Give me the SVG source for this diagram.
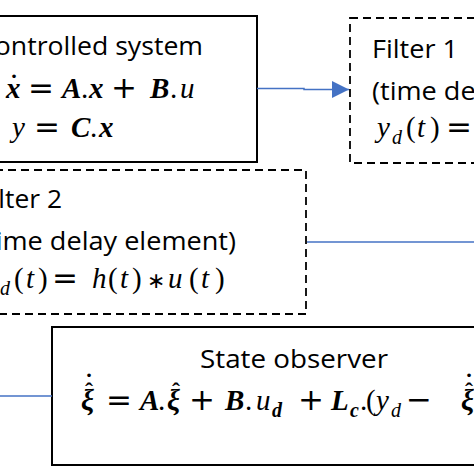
<svg xmlns="http://www.w3.org/2000/svg" width="474" height="474" viewBox="0 0 474 474">
<style>
.solid{fill:#fff;stroke:#000;stroke-width:2}
.dash{fill:#fff;stroke:#000;stroke-width:1.8;stroke-dasharray:8 5}
.t{font-family:"Open Sans","Liberation Sans",sans-serif;font-size:25px;fill:#000}
.m{font-family:"Liberation Serif","DejaVu Serif",serif;font-size:29px;font-style:italic;fill:#000}
.b{font-weight:bold}
.r{font-style:normal}
.op{font-family:"DejaVu Sans",sans-serif;font-style:normal;font-weight:normal;font-size:31px}
.ast{font-family:"DejaVu Sans",sans-serif;font-style:normal;font-weight:normal;font-size:22px}
.s{font-size:20px}
.acc{font-family:"Liberation Serif","DejaVu Serif",serif;font-size:24px;font-style:normal;font-weight:bold;fill:#000;text-anchor:middle}
.conn{fill:none;stroke:#4472C4;stroke-width:1.5}
</style>
<defs>
<marker id="arr" viewBox="0 0 10 10" refX="10" refY="5" markerWidth="17" markerHeight="17" markerUnits="userSpaceOnUse" orient="auto">
<path d="M0,0 L10,5 L0,10 z" fill="#4472C4"/>
</marker>
</defs>
<rect width="474" height="474" fill="#fff"/>

<g id="controlled-system">
<rect class="solid" x="-40" y="16" width="297" height="146"/>
<text class="t" x="-22" y="55" textLength="225" lengthAdjust="spacingAndGlyphs">Controlled system</text>
<text class="m" y="98"><tspan class="b" x="6">x</tspan><tspan class="op" x="28">=</tspan><tspan class="b" x="62">A</tspan><tspan class="r" x="81">.</tspan><tspan class="b" x="89">x</tspan><tspan class="op" x="111">+</tspan><tspan class="b" x="150">B</tspan><tspan class="r" x="170">.</tspan><tspan x="180">u</tspan></text>
<text class="acc" x="14" y="91">˙</text>
<text class="m" y="137"><tspan x="12">y</tspan><tspan class="op" x="34">=</tspan><tspan class="b" x="71">C</tspan><tspan class="r" x="90">.</tspan><tspan class="b" x="99">x</tspan></text>
</g>

<g id="filter-1">
<rect class="dash" x="350" y="18" width="200" height="145"/>
<text class="t" x="372" y="58" textLength="86" lengthAdjust="spacingAndGlyphs">Filter 1</text>
<text class="t" x="372" y="100" textLength="258" lengthAdjust="spacingAndGlyphs">(time delay element)</text>
<text class="m" y="137"><tspan x="377">y</tspan><tspan class="s" x="392" y="144">d</tspan><tspan class="r" x="406" y="137">(</tspan><tspan x="417">t</tspan><tspan class="r" x="430">)</tspan><tspan class="op" x="446">=</tspan></text>
</g>

<g id="filter-2">
<rect class="dash" x="-44" y="170" width="350" height="144"/>
<text class="t" x="-22" y="208" textLength="84" lengthAdjust="spacingAndGlyphs">Filter 2</text>
<text class="t" x="-22" y="250" textLength="258" lengthAdjust="spacingAndGlyphs">(time delay element)</text>
<text class="m" y="288"><tspan x="-15">y</tspan><tspan class="s" x="0" y="295">d</tspan><tspan class="r" x="14" y="288">(</tspan><tspan x="26">t</tspan><tspan class="r" x="38">)</tspan><tspan class="op" x="52">=</tspan><tspan x="92">h</tspan><tspan class="r" x="108">(</tspan><tspan x="120">t</tspan><tspan class="r" x="132">)</tspan><tspan class="ast" x="147">∗</tspan><tspan x="168">u</tspan><tspan class="r" x="189">(</tspan><tspan x="201">t</tspan><tspan class="r" x="215">)</tspan></text>
</g>

<g id="state-observer">
<rect class="solid" x="52" y="327" width="500" height="138"/>
<text class="t" x="200" y="368" textLength="188" lengthAdjust="spacingAndGlyphs">State observer</text>
<text class="m" y="410"><tspan class="b" x="81">ξ</tspan><tspan class="op" x="106">=</tspan><tspan class="b" x="140">A</tspan><tspan class="r" x="158">.</tspan><tspan class="b" x="167">ξ</tspan><tspan class="op" x="189">+</tspan><tspan class="b" x="225">B</tspan><tspan class="r" x="245">.</tspan><tspan x="256">u</tspan><tspan class="s b" x="272" y="417">d</tspan><tspan class="op" x="298" y="410">+</tspan><tspan class="b" x="331">L</tspan><tspan class="s b" x="350" y="417">c</tspan><tspan class="r" x="360" y="410">.</tspan><tspan class="r" x="366">(</tspan><tspan x="376">y</tspan><tspan class="s" x="391" y="417">d</tspan><tspan class="op" x="406" y="410">−</tspan><tspan class="b" x="461">ξ</tspan></text>
<text class="acc" x="89" y="399">ˆ</text>
<text class="acc" x="89" y="390">˙</text>
<text class="acc" x="176" y="399">ˆ</text>
<text class="acc" x="469" y="399">ˆ</text>
<text class="acc" x="469" y="390">˙</text>
</g>

<g id="connectors">
<path class="conn" d="M257,88.5 H304 V89.5 H349" marker-end="url(#arr)"/>
<path class="conn" d="M307,242 H474"/>
<path class="conn" d="M0,396 H52"/>
</g>
</svg>
